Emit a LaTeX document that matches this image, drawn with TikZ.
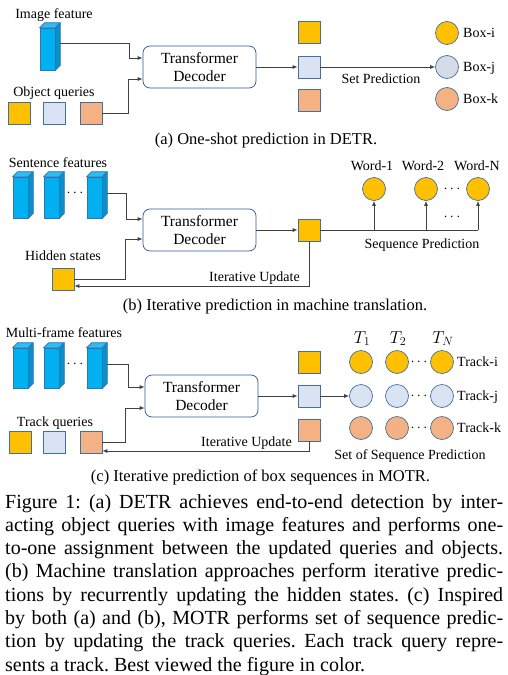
\documentclass[tikz,border=0pt]{standalone}
\usepackage{fontspec}
\setmainfont{Liberation Serif}
\usetikzlibrary{arrows.meta,calc}
\frenchspacing
\definecolor{cyanF}{HTML}{00B0F0}
\definecolor{cyanT}{HTML}{2DBDF2}
\definecolor{cyanS}{HTML}{0A8FC7}
\definecolor{cubeB}{HTML}{2E75B6}
\definecolor{edgeB}{HTML}{41719C}
\definecolor{decB}{HTML}{2F5597}
\definecolor{qY}{HTML}{FFC000}
\definecolor{qL}{HTML}{DAE3F3}
\definecolor{qS}{HTML}{F4B183}
\definecolor{qG}{HTML}{D6DCE5}
\definecolor{lineC}{HTML}{404040}
\newcommand\cubeside[1]{%
  \draw[draw=cubeB, line width=0.6pt, fill=cyanT] (#1.north west) -- ++(5,-5) -- ++(15,0) -- (#1.north east) -- cycle;
  \draw[draw=cubeB, line width=0.6pt, fill=cyanS] (#1.north east) -- ++(5,-5) -- ([shift={(5,-5)}]#1.south east) -- (#1.south east) -- cycle;}
\begin{document}
\begin{tikzpicture}[x=1pt,y=-1pt,
  lbl/.style={font=\fontsize{14}{16}\selectfont, inner sep=0pt},
  subcap/.style={font=\fontsize{16.5}{19}\selectfont, inner sep=0pt},
  figline/.style={font=\fontsize{20}{23.4}\selectfont, inner sep=0pt, anchor=base west},
  cub/.style={draw=cubeB, line width=0.6pt, fill=cyanF, minimum width=15pt, minimum height=#1, inner sep=0pt},
  sq/.style={draw=edgeB, line width=0.7pt, fill=#1, minimum size=22pt, inner sep=0pt},
  circ/.style={circle, draw=edgeB, line width=0.7pt, fill=#1, minimum size=23pt, inner sep=0pt},
  dec/.style={draw=decB, line width=0.7pt, rounded corners=7pt, minimum width=113pt, minimum height=42pt, align=center, font=\fontsize{15.5}{18}\selectfont, inner sep=0pt},
  arr/.style={draw=lineC, line width=0.8pt, -{Latex[length=5pt,width=4pt]}},
  ln/.style={draw=lineC, line width=0.8pt},
  dts/.style={inner sep=0pt, font=\fontsize{14}{16}\selectfont},
  tlab/.style={inner sep=0pt, anchor=base, font=\fontsize{17}{19}\selectfont}
]
\useasboundingbox (0,0) rectangle (508,675);

% ---------- (a)
\node[lbl, anchor=base] (tImg) at (54,18) {Image feature};
\node[cub=42pt] (cA) at (47.5,49) {};
\cubeside{cA}
\node[dec] (dA) at (199.5,67) {Transformer\\Decoder};
\node[lbl, anchor=base] (tObj) at (54,96) {Object queries};
\node[sq=qY] (qa1) at (19,113) {};
\node[sq=qL] (qa2) at (54,113) {};
\node[sq=qS] (qa3) at (91,113) {};
\draw[arr] ([shift={(5,-6)}]cA.east) -- (129,43) |- ([yshift=9pt]dA.west);
\draw[arr] (qa3.east) -- (128,113) |- ([yshift=-12pt]dA.west);
\node[sq=qY] (ra1) at (309,32) {};
\node[sq=qL] (ra2) at (309,67) {};
\node[sq=qS] (ra3) at (309,100) {};
\node[circ=qY] (ba1) at (447,33) {};
\node[circ=qG] (ba2) at (447,67) {};
\node[circ=qS] (ba3) at (447,99) {};
\draw[arr] (dA) -- (ra2);
\draw[arr] (ra2) -- (ba2);
\node[lbl, anchor=base] (tSet) at (381,83) {Set Prediction};
\node[lbl, anchor=base west] (lbi) at (463,37.5) {Box-i};
\node[lbl, anchor=base west] (lbj) at (463,71.5) {Box-j};
\node[lbl, anchor=base west] (lbk) at (463,103.5) {Box-k};
\node[subcap, anchor=base] (capA) at (266,144) {(a) One-shot prediction in DETR.};

% ---------- (b)
\node[lbl, anchor=base] (tSen) at (58,167) {Sentence features};
\node[cub=41pt] (cB1) at (20.5,197.5) {};
\cubeside{cB1}
\node[cub=41pt] (cB2) at (51.5,197.5) {};
\cubeside{cB2}
\node[cub=41pt] (cB3) at (94.5,197.5) {};
\cubeside{cB3}
\node[dts] (dotB) at (75,193) {$\cdots$};
\node[dec] (dB) at (199.5,230) {Transformer\\Decoder};
\draw[arr] ([shift={(5,-4.5)}]cB3.east) -- (126,193) |- ([yshift=11pt]dB.west);
\node[lbl, anchor=base] (tHid) at (63,260) {Hidden states};
\node[sq=qY] (hs) at (63,279) {};
\draw[arr] (hs.east) -- (125,279) |- ([yshift=-9pt]dB.west);
\node[sq=qY] (rb) at (309,230) {};
\draw[arr] (dB) -- (rb);
\node[circ=qY] (wb1) at (374,189) {};
\node[circ=qY] (wb2) at (426,189) {};
\node[circ=qY] (wb3) at (478,189) {};
\draw[ln] (rb.east) -- (wb3 |- rb.east);
\draw[arr] (wb1 |- rb.east) -- (wb1.south);
\draw[arr] (wb2 |- rb.east) -- (wb2.south);
\draw[arr] (wb3 |- rb.east) -- (wb3.south);
\node[lbl, anchor=base] (w1) at (372,170) {Word-1};
\node[lbl, anchor=base] (w2) at (423,170) {Word-2};
\node[lbl, anchor=base] (w3) at (477,170) {Word-N};
\node[dts] (dotW1) at (452,189) {$\cdots$};
\node[dts] (dotW2) at (452,217) {$\cdots$};
\node[lbl, anchor=base] (tSeq) at (422,248) {Sequence Prediction};
\draw[arr] (rb.south) |- ([yshift=-7pt]hs.east);
\node[lbl, anchor=base east] (tIterB) at (300,281) {Iterative Update};
\node[subcap, anchor=base] (capB) at (275,310) {(b) Iterative prediction in machine translation.};

% ---------- (c)
\node[lbl, anchor=base] (tMul) at (64,337) {Multi-frame features};
\node[cub=40pt] (cC1) at (20.5,368) {};
\cubeside{cC1}
\node[cub=40pt] (cC2) at (51.5,368) {};
\cubeside{cC2}
\node[cub=40pt] (cC3) at (94.5,368) {};
\cubeside{cC3}
\node[dts] (dotC) at (75,364) {$\cdots$};
\node[dec] (dC) at (201.5,396) {Transformer\\Decoder};
\draw[arr] ([shift={(5,-4)}]cC3.east) -- (128,364) |- ([yshift=9pt]dC.west);
\node[lbl, anchor=base] (tTrk) at (55,426) {Track queries};
\node[sq=qY] (qc1) at (20,442) {};
\node[sq=qL] (qc2) at (54.5,442) {};
\node[sq=qS] (qc3) at (91,442) {};
\draw[arr] (qc3.east) -- (125,442) |- ([yshift=-12pt]dC.west);
\node[sq=qY] (rc1) at (309,362) {};
\node[sq=qL] (rc2) at (309,396) {};
\node[sq=qS] (rc3) at (309,430) {};
\draw[arr] (dC) -- (rc2);
\foreach \r/\y/\c in {i/362/qY, j/396/qL, k/428/qS}{
  \node[circ=\c] (c\r1) at (361,\y) {};
  \node[circ=\c] (c\r2) at (397,\y) {};
  \node[circ=\c] (c\r3) at (442,\y) {};
  \node[dts] (d\r) at (419,\y) {$\cdots$};
  \node[lbl, anchor=base west] (t\r) at (457,\y+4.5) {Track-\r};
}
\draw[arr] (rc2) -- (cj1);
\node[tlab] (T1) at (362,343) {$T_1$};
\node[tlab] (T2) at (398,343) {$T_2$};
\node[tlab] (TN) at (443,343) {$T_N$};
\draw[arr] (rc3.south) |- ([yshift=-9pt]qc3.east);
\node[lbl, anchor=base east] (tIterC) at (292,446) {Iterative Update};
\node[lbl, anchor=base] (tSSP) at (410,459) {Set of Sequence Prediction};
\node[subcap, anchor=base] (capC) at (260.5,481) {(c) Iterative prediction of box sequences in MOTR.};

% ---------- figure caption
\node[figline] (f1) at (5,508) {\makebox[498pt][s]{Figure 1: (a) DETR achieves end-to-end detection by inter-}};
\node[figline] (f2) at (5,531.3) {\makebox[498pt][s]{acting object queries with image features and performs one-}};
\node[figline] (f3) at (5,554.6) {\makebox[498pt][s]{to-one assignment between the updated queries and objects.}};
\node[figline] (f4) at (5,577.9) {\makebox[498pt][s]{(b) Machine translation approaches perform iterative predic-}};
\node[figline] (f5) at (5,601.2) {\makebox[498pt][s]{tions by recurrently updating the hidden states. (c) Inspired}};
\node[figline] (f6) at (5,624.5) {\makebox[498pt][s]{by both (a) and (b), MOTR performs set of sequence predic-}};
\node[figline] (f7) at (5,647.8) {\makebox[498pt][s]{tion by updating the track queries. Each track query repre-}};
\node[figline] (f8) at (5,671.1) {sents a track. Best viewed the figure in color.};
\end{tikzpicture}
\end{document}
